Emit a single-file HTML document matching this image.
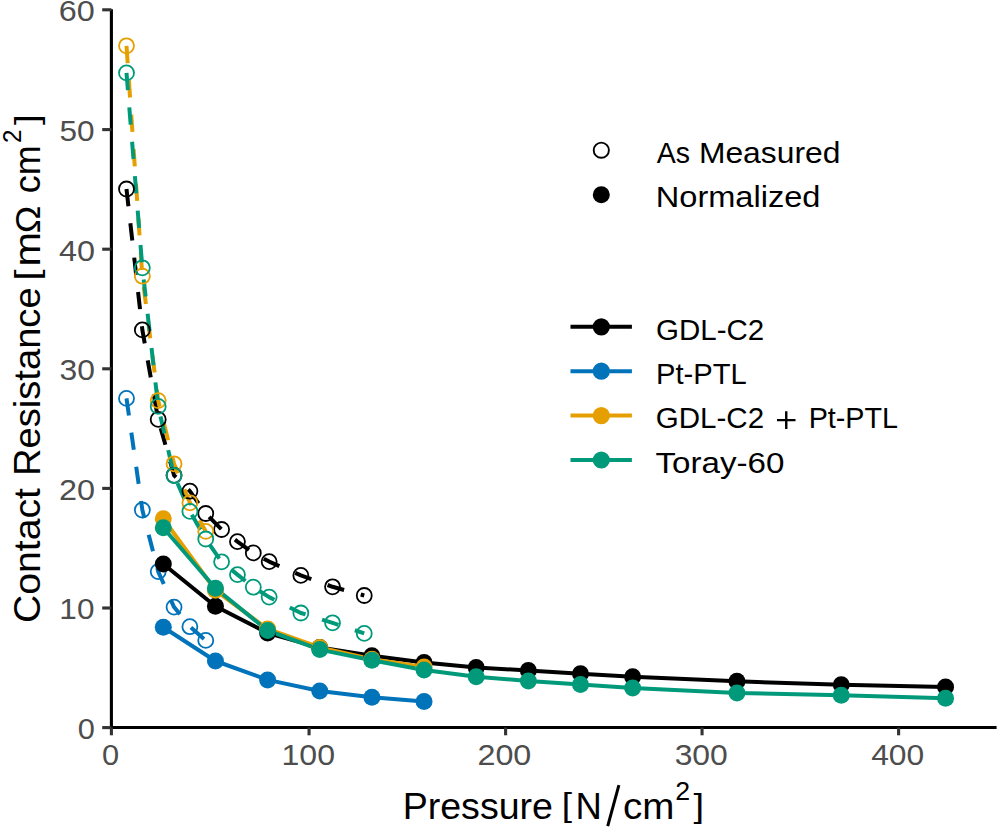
<!DOCTYPE html>
<html><head><meta charset="utf-8"><style>
html,body{margin:0;padding:0;background:#fff;}
svg{display:block;}
text{font-family:"Liberation Sans", sans-serif;}
</style></head><body>
<svg width="998" height="828" viewBox="0 0 998 828">
<rect width="998" height="828" fill="#fff"/>
<polyline points="126.50,189.00 142.35,329.90 158.20,419.40 174.05,475.30 189.90,491.20 205.75,513.50 221.60,529.50 237.45,541.60 253.30,552.90 269.15,561.60 300.85,575.40 332.55,586.80 364.25,595.50" fill="none" stroke="#000000" stroke-width="4.0" stroke-dasharray="17.27 17.27" stroke-linejoin="round"/>
<polyline points="126.50,398.40 142.35,510.00 158.20,571.60 174.05,607.10 189.90,626.70 205.75,640.40" fill="none" stroke="#0073BA" stroke-width="4.0" stroke-dasharray="17.27 17.27" stroke-linejoin="round"/>
<polyline points="126.50,45.80 142.35,276.20 158.20,400.60 174.05,463.80 189.90,502.80 205.75,531.40" fill="none" stroke="#E69F00" stroke-width="4.0" stroke-dasharray="17.27 17.27" stroke-linejoin="round"/>
<polyline points="126.50,72.90 142.35,267.80 158.20,406.40 174.05,475.50 189.90,511.40 205.75,539.00 221.60,561.80 237.45,574.60 253.30,587.20 269.15,597.10 300.85,613.00 332.55,622.80 364.25,633.40" fill="none" stroke="#009A7B" stroke-width="4.0" stroke-dasharray="17.27 17.27" stroke-linejoin="round"/>
<circle cx="126.50" cy="189.00" r="7.5" fill="none" stroke="#000000" stroke-width="1.8"/>
<circle cx="142.35" cy="329.90" r="7.5" fill="none" stroke="#000000" stroke-width="1.8"/>
<circle cx="158.20" cy="419.40" r="7.5" fill="none" stroke="#000000" stroke-width="1.8"/>
<circle cx="174.05" cy="475.30" r="7.5" fill="none" stroke="#000000" stroke-width="1.8"/>
<circle cx="189.90" cy="491.20" r="7.5" fill="none" stroke="#000000" stroke-width="1.8"/>
<circle cx="205.75" cy="513.50" r="7.5" fill="none" stroke="#000000" stroke-width="1.8"/>
<circle cx="221.60" cy="529.50" r="7.5" fill="none" stroke="#000000" stroke-width="1.8"/>
<circle cx="237.45" cy="541.60" r="7.5" fill="none" stroke="#000000" stroke-width="1.8"/>
<circle cx="253.30" cy="552.90" r="7.5" fill="none" stroke="#000000" stroke-width="1.8"/>
<circle cx="269.15" cy="561.60" r="7.5" fill="none" stroke="#000000" stroke-width="1.8"/>
<circle cx="300.85" cy="575.40" r="7.5" fill="none" stroke="#000000" stroke-width="1.8"/>
<circle cx="332.55" cy="586.80" r="7.5" fill="none" stroke="#000000" stroke-width="1.8"/>
<circle cx="364.25" cy="595.50" r="7.5" fill="none" stroke="#000000" stroke-width="1.8"/>
<circle cx="126.50" cy="398.40" r="7.5" fill="none" stroke="#0073BA" stroke-width="1.8"/>
<circle cx="142.35" cy="510.00" r="7.5" fill="none" stroke="#0073BA" stroke-width="1.8"/>
<circle cx="158.20" cy="571.60" r="7.5" fill="none" stroke="#0073BA" stroke-width="1.8"/>
<circle cx="174.05" cy="607.10" r="7.5" fill="none" stroke="#0073BA" stroke-width="1.8"/>
<circle cx="189.90" cy="626.70" r="7.5" fill="none" stroke="#0073BA" stroke-width="1.8"/>
<circle cx="205.75" cy="640.40" r="7.5" fill="none" stroke="#0073BA" stroke-width="1.8"/>
<circle cx="126.50" cy="45.80" r="7.5" fill="none" stroke="#E69F00" stroke-width="1.8"/>
<circle cx="142.35" cy="276.20" r="7.5" fill="none" stroke="#E69F00" stroke-width="1.8"/>
<circle cx="158.20" cy="400.60" r="7.5" fill="none" stroke="#E69F00" stroke-width="1.8"/>
<circle cx="174.05" cy="463.80" r="7.5" fill="none" stroke="#E69F00" stroke-width="1.8"/>
<circle cx="189.90" cy="502.80" r="7.5" fill="none" stroke="#E69F00" stroke-width="1.8"/>
<circle cx="205.75" cy="531.40" r="7.5" fill="none" stroke="#E69F00" stroke-width="1.8"/>
<circle cx="126.50" cy="72.90" r="7.5" fill="none" stroke="#009A7B" stroke-width="1.8"/>
<circle cx="142.35" cy="267.80" r="7.5" fill="none" stroke="#009A7B" stroke-width="1.8"/>
<circle cx="158.20" cy="406.40" r="7.5" fill="none" stroke="#009A7B" stroke-width="1.8"/>
<circle cx="174.05" cy="475.50" r="7.5" fill="none" stroke="#009A7B" stroke-width="1.8"/>
<circle cx="189.90" cy="511.40" r="7.5" fill="none" stroke="#009A7B" stroke-width="1.8"/>
<circle cx="205.75" cy="539.00" r="7.5" fill="none" stroke="#009A7B" stroke-width="1.8"/>
<circle cx="221.60" cy="561.80" r="7.5" fill="none" stroke="#009A7B" stroke-width="1.8"/>
<circle cx="237.45" cy="574.60" r="7.5" fill="none" stroke="#009A7B" stroke-width="1.8"/>
<circle cx="253.30" cy="587.20" r="7.5" fill="none" stroke="#009A7B" stroke-width="1.8"/>
<circle cx="269.15" cy="597.10" r="7.5" fill="none" stroke="#009A7B" stroke-width="1.8"/>
<circle cx="300.85" cy="613.00" r="7.5" fill="none" stroke="#009A7B" stroke-width="1.8"/>
<circle cx="332.55" cy="622.80" r="7.5" fill="none" stroke="#009A7B" stroke-width="1.8"/>
<circle cx="364.25" cy="633.40" r="7.5" fill="none" stroke="#009A7B" stroke-width="1.8"/>
<polyline points="163.30,564.00 215.45,606.30 267.60,633.00 319.75,647.50 371.90,655.80 424.05,662.40 476.20,667.40 528.35,670.60 580.50,673.70 632.65,676.80 736.95,681.30 841.25,684.80 945.55,687.10" fill="none" stroke="#000000" stroke-width="4.0" stroke-linejoin="round"/>
<polyline points="163.30,627.30 215.45,661.00 267.60,679.90 319.75,691.00 371.90,697.30 424.05,701.60" fill="none" stroke="#0073BA" stroke-width="4.0" stroke-linejoin="round"/>
<polyline points="163.30,518.70 215.45,590.30 267.60,629.00 319.75,647.40 371.90,659.30 424.05,667.10" fill="none" stroke="#E69F00" stroke-width="4.0" stroke-linejoin="round"/>
<polyline points="163.30,527.80 215.45,588.20 267.60,630.50 319.75,649.60 371.90,660.30 424.05,670.00 476.20,676.80 528.35,681.00 580.50,684.50 632.65,688.00 736.95,693.00 841.25,695.30 945.55,698.30" fill="none" stroke="#009A7B" stroke-width="4.0" stroke-linejoin="round"/>
<circle cx="163.30" cy="564.00" r="8.5" fill="#000000"/>
<circle cx="215.45" cy="606.30" r="8.5" fill="#000000"/>
<circle cx="267.60" cy="633.00" r="8.5" fill="#000000"/>
<circle cx="319.75" cy="647.50" r="8.5" fill="#000000"/>
<circle cx="371.90" cy="655.80" r="8.5" fill="#000000"/>
<circle cx="424.05" cy="662.40" r="8.5" fill="#000000"/>
<circle cx="476.20" cy="667.40" r="8.5" fill="#000000"/>
<circle cx="528.35" cy="670.60" r="8.5" fill="#000000"/>
<circle cx="580.50" cy="673.70" r="8.5" fill="#000000"/>
<circle cx="632.65" cy="676.80" r="8.5" fill="#000000"/>
<circle cx="736.95" cy="681.30" r="8.5" fill="#000000"/>
<circle cx="841.25" cy="684.80" r="8.5" fill="#000000"/>
<circle cx="945.55" cy="687.10" r="8.5" fill="#000000"/>
<circle cx="163.30" cy="627.30" r="8.5" fill="#0073BA"/>
<circle cx="215.45" cy="661.00" r="8.5" fill="#0073BA"/>
<circle cx="267.60" cy="679.90" r="8.5" fill="#0073BA"/>
<circle cx="319.75" cy="691.00" r="8.5" fill="#0073BA"/>
<circle cx="371.90" cy="697.30" r="8.5" fill="#0073BA"/>
<circle cx="424.05" cy="701.60" r="8.5" fill="#0073BA"/>
<circle cx="163.30" cy="518.70" r="8.5" fill="#E69F00"/>
<circle cx="215.45" cy="590.30" r="8.5" fill="#E69F00"/>
<circle cx="267.60" cy="629.00" r="8.5" fill="#E69F00"/>
<circle cx="319.75" cy="647.40" r="8.5" fill="#E69F00"/>
<circle cx="371.90" cy="659.30" r="8.5" fill="#E69F00"/>
<circle cx="424.05" cy="667.10" r="8.5" fill="#E69F00"/>
<circle cx="163.30" cy="527.80" r="8.5" fill="#009A7B"/>
<circle cx="215.45" cy="588.20" r="8.5" fill="#009A7B"/>
<circle cx="267.60" cy="630.50" r="8.5" fill="#009A7B"/>
<circle cx="319.75" cy="649.60" r="8.5" fill="#009A7B"/>
<circle cx="371.90" cy="660.30" r="8.5" fill="#009A7B"/>
<circle cx="424.05" cy="670.00" r="8.5" fill="#009A7B"/>
<circle cx="476.20" cy="676.80" r="8.5" fill="#009A7B"/>
<circle cx="528.35" cy="681.00" r="8.5" fill="#009A7B"/>
<circle cx="580.50" cy="684.50" r="8.5" fill="#009A7B"/>
<circle cx="632.65" cy="688.00" r="8.5" fill="#009A7B"/>
<circle cx="736.95" cy="693.00" r="8.5" fill="#009A7B"/>
<circle cx="841.25" cy="695.30" r="8.5" fill="#009A7B"/>
<circle cx="945.55" cy="698.30" r="8.5" fill="#009A7B"/>
<line x1="111.4" y1="9.2" x2="111.4" y2="729.0" stroke="#000" stroke-width="3.1"/>
<line x1="109.9" y1="727.5" x2="996.6" y2="727.5" stroke="#000" stroke-width="3.1"/>
<line x1="111.4" y1="727.5" x2="111.4" y2="735.3" stroke="#333333" stroke-width="3.1"/>
<line x1="309.05" y1="727.5" x2="309.05" y2="735.3" stroke="#333333" stroke-width="3.1"/>
<line x1="505.6" y1="727.5" x2="505.6" y2="735.3" stroke="#333333" stroke-width="3.1"/>
<line x1="702.05" y1="727.5" x2="702.05" y2="735.3" stroke="#333333" stroke-width="3.1"/>
<line x1="898.6" y1="727.5" x2="898.6" y2="735.3" stroke="#333333" stroke-width="3.1"/>
<line x1="102.2" y1="727.60" x2="111.4" y2="727.60" stroke="#333333" stroke-width="3.1"/>
<line x1="102.2" y1="608.00" x2="111.4" y2="608.00" stroke="#333333" stroke-width="3.1"/>
<line x1="102.2" y1="488.40" x2="111.4" y2="488.40" stroke="#333333" stroke-width="3.1"/>
<line x1="102.2" y1="368.80" x2="111.4" y2="368.80" stroke="#333333" stroke-width="3.1"/>
<line x1="102.2" y1="249.20" x2="111.4" y2="249.20" stroke="#333333" stroke-width="3.1"/>
<line x1="102.2" y1="129.60" x2="111.4" y2="129.60" stroke="#333333" stroke-width="3.1"/>
<line x1="102.2" y1="9.80" x2="111.4" y2="9.80" stroke="#333333" stroke-width="3.1"/>
<circle cx="601.3" cy="150.2" r="7.6" fill="none" stroke="#000" stroke-width="1.9"/>
<circle cx="601.3" cy="194.7" r="8.5" fill="#000"/>
<line x1="570.5" y1="326.8" x2="631.9" y2="326.8" stroke="#000000" stroke-width="4.0"/>
<circle cx="601.3" cy="326.8" r="8.6" fill="#000000"/>
<line x1="570.5" y1="371.2" x2="631.9" y2="371.2" stroke="#0073BA" stroke-width="4.0"/>
<circle cx="601.3" cy="371.2" r="8.6" fill="#0073BA"/>
<line x1="570.5" y1="415.6" x2="631.9" y2="415.6" stroke="#E69F00" stroke-width="4.0"/>
<circle cx="601.3" cy="415.6" r="8.6" fill="#E69F00"/>
<line x1="570.5" y1="460.0" x2="631.9" y2="460.0" stroke="#009A7B" stroke-width="4.0"/>
<circle cx="601.3" cy="460.0" r="8.6" fill="#009A7B"/>
<text transform="translate(77.68 739.05) scale(1.0545 1.0000)" font-size="29.2" fill="#4D4D4D">0</text>
<text transform="translate(59.37 619.45) scale(1.0793 1.0000)" font-size="29.2" fill="#4D4D4D">10</text>
<text transform="translate(58.94 499.85) scale(1.1092 1.0000)" font-size="29.2" fill="#4D4D4D">20</text>
<text transform="translate(59.44 380.25) scale(1.0900 1.0000)" font-size="29.2" fill="#4D4D4D">30</text>
<text transform="translate(58.97 260.65) scale(1.1082 1.0000)" font-size="29.2" fill="#4D4D4D">40</text>
<text transform="translate(59.55 141.05) scale(1.0800 1.0000)" font-size="29.2" fill="#4D4D4D">50</text>
<text transform="translate(58.84 21.45) scale(1.1092 1.0000)" font-size="29.2" fill="#4D4D4D">60</text>
<text transform="translate(101.88 765.30) scale(1.0545 1.0000)" font-size="29.2" fill="#4D4D4D">0</text>
<text transform="translate(281.53 765.30) scale(1.0983 1.0000)" font-size="29.2" fill="#4D4D4D">100</text>
<text transform="translate(477.44 765.30) scale(1.1065 1.0000)" font-size="29.2" fill="#4D4D4D">200</text>
<text transform="translate(674.64 765.30) scale(1.0919 1.0000)" font-size="29.2" fill="#4D4D4D">300</text>
<text transform="translate(871.18 765.30) scale(1.0888 1.0000)" font-size="29.2" fill="#4D4D4D">400</text>
<text transform="translate(656.80 162.90) scale(0.9642 1.0000)" font-size="29.6" fill="#000">As</text>
<text transform="translate(698.91 162.90) scale(1.0750 1.0000)" font-size="29.6" fill="#000">Measured</text>
<text transform="translate(655.75 207.20) scale(1.1009 1.0000)" font-size="29.6" fill="#000">Normalized</text>
<text transform="translate(656.11 339.50) scale(0.9962 1.0000)" font-size="29.6" fill="#000">GDL-C2</text>
<text transform="translate(656.04 383.90) scale(0.9853 1.0000)" font-size="29.6" fill="#000">Pt-PTL</text>
<text transform="translate(655.80 428.30) scale(0.9981 1.0000)" font-size="29.6" fill="#000">GDL-C2</text>
<text transform="translate(808.67 428.30) scale(0.9706 1.0000)" font-size="29.6" fill="#000">Pt-PTL</text>
<text transform="translate(655.46 472.70) scale(1.1205 1.0000)" font-size="29.6" fill="#000">Toray-60</text>
<text transform="translate(402.66 818.80) scale(1.0129 1.0000)" font-size="37.1" fill="#000">Pressure</text>
<text transform="translate(561.67 816.20) scale(0.9931 0.9070)" font-size="37.1" fill="#000">[</text>
<text transform="translate(575.55 818.80) scale(0.9831 1.0000)" font-size="37.1" fill="#000">N</text>
<text transform="translate(622.94 818.80) scale(1.0396 1.0000)" font-size="37.1" fill="#000">cm</text>
<text transform="translate(675.28 799.80) scale(1.0522 1.0000)" font-size="25.4" fill="#000">2</text>
<text transform="translate(693.54 816.50) scale(1.0267 0.9070)" font-size="37.1" fill="#000">]</text>
<g transform="rotate(-90)"><text transform="translate(-623.11 40.10) scale(1.0574 1.0000)" font-size="37.1" fill="#000">Contact</text><text transform="translate(-475.98 40.10) scale(1.0283 1.0000)" font-size="37.1" fill="#000">Resistance</text><text transform="translate(-280.42 37.70) scale(1.0621 0.9070)" font-size="37.1" fill="#000">[</text><text transform="translate(-266.39 40.10) scale(1.1154 1.0000)" font-size="37.1" fill="#000">m</text><text transform="translate(-233.37 40.30) scale(1.0495 0.9737)" font-size="35.245" fill="#000">Ω</text><text transform="translate(-193.25 40.10) scale(0.9692 1.0000)" font-size="37.1" fill="#000">cm</text><text transform="translate(-142.88 20.80) scale(0.9478 1.0000)" font-size="25.4" fill="#000">2</text><text transform="translate(-125.06 37.70) scale(1.0533 0.9070)" font-size="37.1" fill="#000">]</text></g>
<path d="M777 420.1H795.5M786.25 411.2V428.9" stroke="#000" stroke-width="2.4" fill="none"/>
<line x1="618.9" y1="785.2" x2="607.7" y2="826.1" stroke="#000" stroke-width="3.0"/>
</svg></body></html>
